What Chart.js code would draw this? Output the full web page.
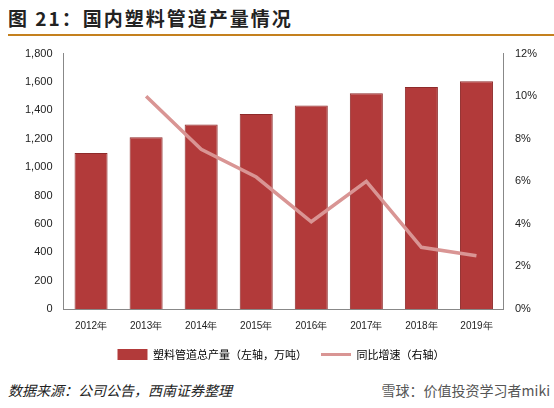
<!DOCTYPE html>
<html><head><meta charset="utf-8">
<script src="https://cdn.jsdelivr.net/npm/chart.js"></script>
<style>
body{margin:0;width:554px;height:408px;background:#fff;font-family:"Noto Sans CJK SC",sans-serif;position:relative;overflow:hidden}
#t{position:absolute;left:8px;top:4px;font-size:19px;font-weight:bold;color:#222;letter-spacing:2px}
#ln{position:absolute;left:8px;top:34px;width:546px;height:2px;background:#c4801e}
#c{position:absolute;left:0;top:44px;width:554px;height:326px}
#s{position:absolute;left:8px;top:380px;font-size:14px;font-style:italic;color:#222}
#w{position:absolute;right:4px;top:380px;font-size:14px;color:#555}
</style></head><body>
<div id="t">图 21：国内塑料管道产量情况</div><div id="ln"></div>
<div id="c"><canvas id="cv"></canvas></div>
<div id="s">数据来源：公司公告，西南证券整理</div>
<div id="w">雪球：价值投资学习者miki</div>
<script>
const years=["2012年","2013年","2014年","2015年","2016年","2017年","2018年","2019年"];
const output=[1100,1210,1300,1375,1435,1520,1565,1605];
const growth=[null,10.0,7.5,6.2,4.1,6.0,2.9,2.5];
new Chart(document.getElementById('cv'),{
data:{labels:years,datasets:[
{type:'bar',label:'塑料管道总产量（左轴，万吨）',data:output,yAxisID:'y',backgroundColor:'#b23a3a',borderColor:'#8e2a2a',borderWidth:1,categoryPercentage:0.8,barPercentage:0.75,order:1},
{type:'line',label:'同比增速（右轴）',data:growth,yAxisID:'y1',borderColor:'#d99594',backgroundColor:'#d99594',borderWidth:3.5,pointRadius:0,tension:0,order:0}
]},
options:{responsive:true,maintainAspectRatio:false,animation:false,
layout:{padding:{left:22,right:14,top:6,bottom:0}},
plugins:{legend:{position:'bottom',labels:{font:{size:11,family:'"Noto Sans CJK SC"'},color:'#222',usePointStyle:true,pointStyleWidth:30,padding:14,
generateLabels:(c)=>c.data.datasets.map((d,i)=>d.type==='bar'?({text:d.label,fillStyle:'#b23a3a',strokeStyle:'#b23a3a',lineWidth:0,pointStyle:'rect',datasetIndex:i}):({text:d.label,fillStyle:'#d99594',strokeStyle:'#d99594',lineWidth:3,pointStyle:'line',datasetIndex:i}))}},tooltip:{enabled:false}},
scales:{
x:{grid:{display:false},border:{color:'#888'},ticks:{font:{size:10},color:'#222'}},
y:{min:0,max:1800,ticks:{stepSize:200,font:{size:11},color:'#222',callback:v=>v.toLocaleString('en-US')},grid:{display:false},border:{color:'#888'}},
y1:{position:'right',min:0,max:12,ticks:{stepSize:2,font:{size:11},color:'#222',callback:v=>v+'%'},grid:{display:false},border:{color:'#888'}}
}}});
</script></body></html>
